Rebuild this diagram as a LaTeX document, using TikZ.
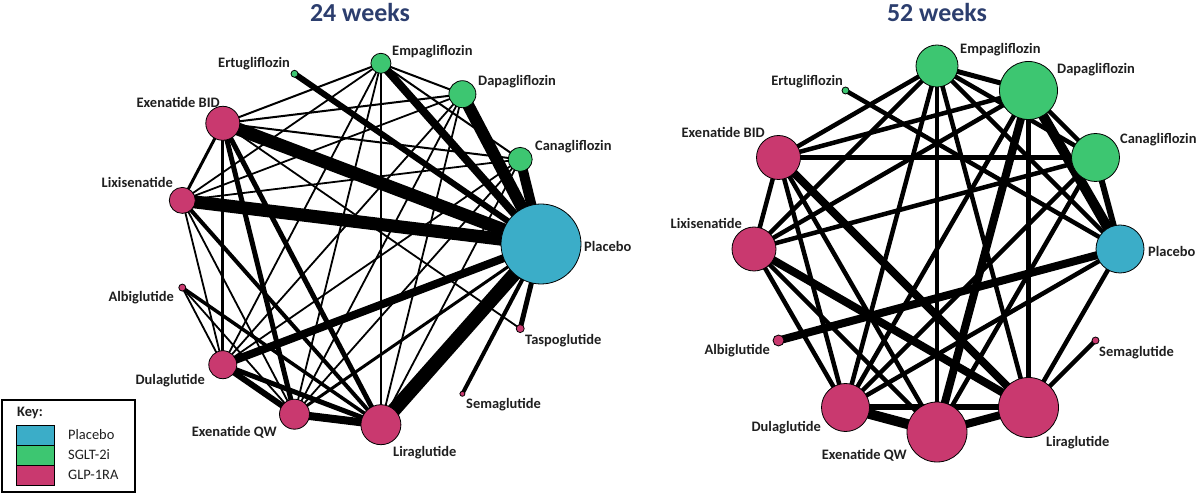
\documentclass[tikz,border=0pt]{standalone}
\usepackage{fontspec}
\setmainfont{Carlito}
\pgfdeclarelayer{bg}
\pgfsetlayers{bg,main}
\definecolor{plc}{RGB}{59,173,200}
\definecolor{sglt}{RGB}{61,198,113}
\definecolor{glp}{RGB}{201,57,111}
\definecolor{ttl}{RGB}{44,62,110}
\tikzset{
  drug/.style={circle, draw=black, line width=0.8bp, inner sep=0pt, minimum size=#1bp},
  pl/.style={drug=#1, fill=plc},
  sg/.style={drug=#1, fill=sglt},
  gl/.style={drug=#1, fill=glp},
  lab/.style={font=\bfseries\fontsize{14.5}{16}\selectfont, inner sep=0pt, text=black!88},
  ttlstyle/.style={font=\bfseries\fontsize{26}{30}\selectfont, text=ttl, inner sep=0pt},
  keytxt/.style={font=\fontsize{14.5}{16}\selectfont, inner sep=0pt, anchor=west, text=black!88},
  swatch/.style={draw=black, line width=1bp, minimum width=37bp, minimum height=20bp, inner sep=0pt},
}
\newcommand\edg[3]{\draw[line width=#1bp, black] (#2.center) -- (#3.center);}
\begin{document}
\begin{tikzpicture}[x=1bp, y=-1bp]
\useasboundingbox (0,0) rectangle (1200,494);
\begin{pgfonlayer}{bg}
\fill[white] (0,0) rectangle (1200,494);
\end{pgfonlayer}

% titles
\node[ttlstyle] (t24) at (360,13) {24 weeks};
\node[ttlstyle] (t52) at (937,13) {52 weeks};

% ---------- 24 weeks ----------
\node[pl=80] (aP)  at (541,244) {};
\node[sg=24] (aC)  at (520.2,159.4) {};
\node[sg=27] (aD)  at (462.4,94.2) {};
\node[sg=20] (aE)  at (380.9,63.3) {};
\node[sg=7]  (aEr) at (294.5,73.8) {};
\node[gl=34] (aB)  at (222.8,123.3) {};
\node[gl=26] (aL)  at (182.3,200.4) {};
\node[gl=7]  (aA)  at (182.3,287.6) {};
\node[gl=28] (aDu) at (222.8,364.7) {};
\node[gl=30] (aQ)  at (294.5,414.2) {};
\node[gl=40] (aLi) at (380.9,424.7) {};
\node[gl=5]  (aS)  at (462.4,393.8) {};
\node[gl=8]  (aT)  at (520.2,328.6) {};

\begin{pgfonlayer}{bg}
\edg{13}{aP}{aB}\edg{13}{aP}{aL}\edg{14}{aP}{aLi}\edg{12}{aP}{aD}
\edg{10}{aP}{aC}\edg{8}{aP}{aE}\edg{6}{aP}{aEr}\edg{8}{aP}{aDu}
\edg{3}{aP}{aQ}\edg{4}{aP}{aS}\edg{5}{aP}{aT}
\edg{2}{aE}{aD}\edg{2}{aE}{aC}\edg{2}{aE}{aB}\edg{1.8}{aE}{aL}
\edg{1.8}{aE}{aDu}\edg{1.8}{aE}{aQ}\edg{1.8}{aE}{aLi}
\edg{2}{aD}{aB}\edg{1.8}{aD}{aL}\edg{1.8}{aD}{aDu}\edg{1.8}{aD}{aQ}\edg{1.8}{aD}{aLi}
\edg{2}{aC}{aB}\edg{1.8}{aC}{aL}\edg{1.8}{aC}{aDu}\edg{1.8}{aC}{aQ}\edg{1.8}{aC}{aLi}
\edg{3}{aB}{aL}\edg{3}{aB}{aDu}\edg{5}{aB}{aQ}\edg{5}{aB}{aLi}\edg{1.8}{aB}{aT}
\edg{1.8}{aL}{aDu}\edg{1.8}{aL}{aQ}\edg{4}{aL}{aLi}
\edg{1.8}{aA}{aDu}\edg{1.8}{aA}{aQ}\edg{3.5}{aA}{aLi}
\edg{6}{aDu}{aQ}\edg{5}{aDu}{aLi}\edg{8}{aQ}{aLi}
\end{pgfonlayer}

\node[lab, anchor=west] (laE)  at (392,52)  {Empagliflozin};
\node[lab, anchor=east] (laEr) at (290,64)  {Ertugliflozin};
\node[lab, anchor=west] (laD)  at (478,82)  {Dapagliflozin};
\node[lab, anchor=west] (laC)  at (535,147) {Canagliflozin};
\node[lab, anchor=east] (laB)  at (220,102) {Exenatide BID};
\node[lab, anchor=east] (laL)  at (173,182) {Lixisenatide};
\node[lab, anchor=west] (laP)  at (584,246) {Placebo};
\node[lab, anchor=east] (laA)  at (174,298) {Albiglutide};
\node[lab, anchor=west] (laT)  at (525,341) {Taspoglutide};
\node[lab, anchor=east] (laDu) at (205,381) {Dulaglutide};
\node[lab, anchor=west] (laS)  at (466,405) {Semaglutide};
\node[lab, anchor=east] (laQ)  at (277,432) {Exenatide QW};
\node[lab, anchor=west] (laLi) at (393,453) {Liraglutide};

% ---------- 52 weeks ----------
\node[sg=42] (bE)  at (937,66) {};
\node[sg=58] (bD)  at (1028.5,90.5) {};
\node[sg=48] (bC)  at (1095.5,157.5) {};
\node[pl=48] (bP)  at (1120,249) {};
\node[gl=7]  (bSe) at (1095.5,340.5) {};
\node[gl=60] (bLi) at (1028.5,407.5) {};
\node[gl=60] (bQ)  at (937,432) {};
\node[gl=48] (bDu) at (845.5,407.5) {};
\node[gl=11] (bA)  at (778.5,340.5) {};
\node[gl=44] (bL)  at (754,249) {};
\node[gl=44] (bB)  at (778.5,157.5) {};
\node[sg=7]  (bEr) at (845.5,90.5) {};

\begin{pgfonlayer}{bg}
\edg{5}{bE}{bD}\edg{4.5}{bE}{bC}\edg{4.5}{bE}{bP}\edg{4.5}{bE}{bQ}\edg{4.5}{bE}{bLi}
\edg{4.5}{bE}{bDu}\edg{4.5}{bE}{bL}\edg{4.5}{bE}{bB}
\edg{4.5}{bD}{bB}\edg{4.5}{bD}{bL}\edg{4.5}{bD}{bDu}\edg{8}{bD}{bQ}\edg{4.5}{bD}{bLi}
\edg{10}{bD}{bP}\edg{4.5}{bD}{bC}
\edg{4.5}{bC}{bB}\edg{4.5}{bC}{bL}\edg{4.5}{bC}{bDu}\edg{4.5}{bC}{bQ}\edg{6}{bC}{bP}
\edg{8}{bP}{bA}\edg{4.5}{bP}{bEr}\edg{4.5}{bP}{bLi}\edg{4.5}{bP}{bDu}
\edg{4.5}{bB}{bL}\edg{4.5}{bB}{bDu}\edg{4.5}{bB}{bQ}\edg{8}{bB}{bLi}
\edg{4.5}{bL}{bDu}\edg{4.5}{bL}{bQ}\edg{8}{bL}{bLi}
\edg{4.5}{bSe}{bLi}
\edg{10}{bDu}{bQ}\edg{6}{bDu}{bLi}\edg{8}{bQ}{bLi}
\end{pgfonlayer}

\node[lab, anchor=west] (lbE)  at (960,50)   {Empagliflozin};
\node[lab, anchor=west] (lbD)  at (1057,70)  {Dapagliflozin};
\node[lab, anchor=west] (lbC)  at (1120,140) {Canagliflozin};
\node[lab, anchor=west] (lbP)  at (1148,251) {Placebo};
\node[lab, anchor=west] (lbS)  at (1099,353) {Semaglutide};
\node[lab, anchor=west] (lbLi) at (1046,443) {Liraglutide};
\node[lab, anchor=east] (lbQ)  at (907,455)  {Exenatide QW};
\node[lab, anchor=east] (lbDu) at (821,428)  {Dulaglutide};
\node[lab, anchor=east] (lbA)  at (770,351)  {Albiglutide};
\node[lab, anchor=east] (lbL)  at (742,223)  {Lixisenatide};
\node[lab, anchor=east] (lbB)  at (765,132)  {Exenatide BID};
\node[lab, anchor=east] (lbEr) at (843,82)   {Ertugliflozin};

% ---------- key ----------
\node[draw=black, line width=1.5bp, minimum width=133bp, minimum height=92bp, inner sep=0pt] (keybox) at (68.5,446) {};
\node[lab, anchor=west] (keyt) at (17,413) {Key:};
\node[swatch, fill=plc]  (k1) at (35.5,435) {};
\node[swatch, fill=sglt] (k2) at (35.5,455) {};
\node[swatch, fill=glp]  (k3) at (35.5,475) {};
\node[keytxt] (k1t) at (68,435) {Placebo};
\node[keytxt] (k2t) at (68,455) {SGLT-2i};
\node[keytxt] (k3t) at (68,475) {GLP-1RA};
\end{tikzpicture}
\end{document}
